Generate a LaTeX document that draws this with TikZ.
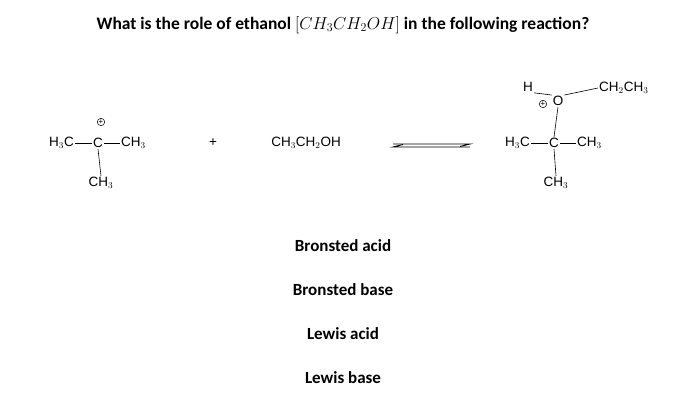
\documentclass[tikz,border=0pt]{standalone}
\usepackage{fontspec}
\setmainfont{Carlito}
\newfontfamily\chemf{Liberation Sans}
\begin{document}
\begin{tikzpicture}[x=1pt,y=-1pt,
  ch/.style={font=\chemf\fontsize{13.5}{14}\selectfont,inner sep=1pt},
  opt/.style={font=\fontsize{17}{18}\selectfont\bfseries},
  bond/.style={line width=0.6pt},
  chg/.style={circle,draw,line width=0.5pt,inner sep=0.3pt,font=\chemf\fontsize{8}{8}\selectfont}]
\useasboundingbox (0,0) rectangle (699,411);
\node[font=\fontsize{17.5}{19}\selectfont\bfseries] (title) at (343,25) {What is the role of ethanol $[CH_3CH_2OH]$ in the following reaction?};
% left cation
\node[ch,anchor=east] (l1) at (75,143) {H$_3$C};
\node[ch] (lc) at (98,143) {C};
\node[ch,anchor=west] (l2) at (120,143) {CH$_3$};
\node[ch] (l3) at (101,183) {CH$_3$};
\node[chg] (lp) at (101,122) {+};
\draw[bond] (l1) -- (lc); \draw[bond] (lc) -- (l2); \draw[bond] (lc.south) -- (l3.north);
\node[ch] (plus) at (213,143) {+};
\node[ch] (eth) at (306,143) {CH$_3$CH$_2$OH};
% equilibrium arrow
\coordinate (a1) at (393,144); \coordinate (a2) at (470,144);
\draw[line width=0.9pt] (a1) -- (a2) -- ++(-10,2.5);
\draw[line width=0.9pt] ([yshift=-3]a2) -- ([yshift=-3]a1) -- ++(10,-2.5);
% product
\node[ch,anchor=east] (r1) at (531,143) {H$_3$C};
\node[ch] (rc) at (554,143) {C};
\node[ch,anchor=west] (r2) at (576,143) {CH$_3$};
\node[ch] (r3) at (556,183) {CH$_3$};
\node[ch] (ro) at (558,101) {O};
\node[chg] (rp) at (543,104) {+};
\node[ch] (rh) at (528,87) {H};
\node[ch,anchor=west] (re) at (598,88) {CH$_2$CH$_3$};
\draw[bond] (r1) -- (rc); \draw[bond] (rc) -- (r2); \draw[bond] (rc.south) -- (r3.north);
\draw[bond] (ro.south) -- (rc.north);
\draw[bond] (rh.south east) -- (ro.north west);
\draw[bond] (ro.north east) -- (re.west);
% options
\node[opt] (o1) at (343,246) {Bronsted acid};
\node[opt] (o2) at (343,290) {Bronsted base};
\node[opt] (o3) at (343,334) {Lewis acid};
\node[opt] (o4) at (343,378) {Lewis base};
\end{tikzpicture}
\end{document}
